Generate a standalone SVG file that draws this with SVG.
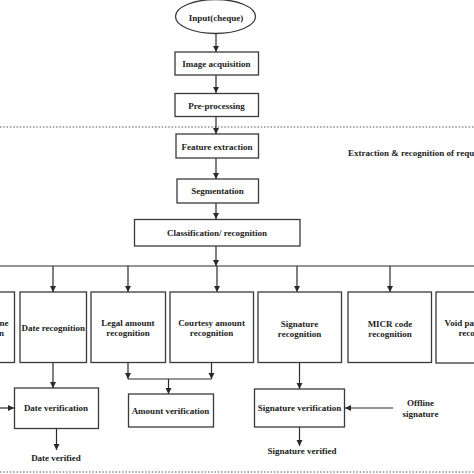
<svg xmlns="http://www.w3.org/2000/svg" width="474" height="474" viewBox="0 0 474 474">
<defs>
<marker id="ah" markerUnits="userSpaceOnUse" markerWidth="7" markerHeight="7" refX="6" refY="3" orient="auto">
<path d="M0,0 L6,3 L0,6 z" fill="#2a2a2a"/>
</marker>
<style>
.box{fill:#fff;stroke:#3a3a3a;stroke-width:1.3}
.t{font-family:'Liberation Serif','Times New Roman',serif;font-weight:bold;font-size:9px;fill:#222;text-anchor:middle}
.ts{font-family:'Liberation Serif','Times New Roman',serif;font-weight:bold;font-size:9px;fill:#222}
.c{fill:none;stroke:#2a2a2a;stroke-width:1.2}
.a{fill:none;stroke:#2a2a2a;stroke-width:1.2;marker-end:url(#ah)}
.dash{fill:none;stroke:#555;stroke-width:1;stroke-dasharray:1.5,1.8}
</style>
</defs>
<rect width="474" height="474" fill="#fff"/>
<line class="dash" x1="0" y1="127" x2="474" y2="127"/>
<line class="dash" x1="0" y1="472" x2="474" y2="472"/>
<text class="ts" x="348" y="156">Extraction &amp; recognition of requ</text>
<g id="connectors">
<line class="a" x1="216" y1="33" x2="216" y2="52"/>
<line class="a" x1="216" y1="75" x2="216" y2="93"/>
<line class="a" x1="216" y1="117" x2="216" y2="134"/>
<line class="a" x1="216" y1="158" x2="216" y2="179"/>
<line class="a" x1="216" y1="203" x2="216" y2="219"/>
<line class="a" x1="216" y1="246" x2="216" y2="266"/>
<line class="c" x1="0" y1="266" x2="474" y2="266"/>
<line class="a" x1="53" y1="266" x2="53" y2="292"/>
<line class="a" x1="128" y1="266" x2="128" y2="292"/>
<line class="a" x1="217" y1="266" x2="217" y2="292"/>
<line class="a" x1="297" y1="266" x2="297" y2="292"/>
<line class="a" x1="390" y1="266" x2="390" y2="292"/>
<line class="a" x1="53" y1="362" x2="53" y2="388"/>
<line class="a" x1="0" y1="408" x2="14" y2="408"/>
<line class="a" x1="56.5" y1="428" x2="56.5" y2="450"/>
<line class="a" x1="128" y1="362" x2="128" y2="379"/>
<line class="a" x1="211.5" y1="362" x2="211.5" y2="379"/>
<line class="c" x1="128" y1="379" x2="211.5" y2="379"/>
<line class="a" x1="168.5" y1="379" x2="168.5" y2="394"/>
<line class="a" x1="299.5" y1="362" x2="299.5" y2="389"/>
<line class="a" x1="393" y1="408" x2="345" y2="408"/>
<line class="a" x1="299.5" y1="427" x2="299.5" y2="446"/>
</g>
<g id="input"><ellipse class="box" cx="215.5" cy="16.5" rx="40" ry="17" stroke-width="1.5"/><text class="t" x="216" y="20.5" font-size="10">Input(cheque)</text></g>
<g id="image-acquisition"><rect class="box" x="175" y="52" width="83.5" height="23"/><text class="t" x="216.5" y="67">Image acquisition</text></g>
<g id="pre-processing"><rect class="box" x="175" y="93.5" width="83.5" height="23"/><text class="t" x="216.5" y="108.5">Pre-processing</text></g>
<g id="feature-extraction"><rect class="box" x="176" y="134" width="82.5" height="24"/><text class="t" x="217" y="149.5">Feature extraction</text></g>
<g id="segmentation"><rect class="box" x="177" y="179" width="81.5" height="24"/><text class="t" x="217.5" y="194">Segmentation</text></g>
<g id="classification"><rect class="box" x="134.5" y="219.5" width="165.5" height="26.5"/><text class="t" x="217" y="236">Classification/ recognition</text></g>
<g id="left-partial"><rect class="box" x="-40" y="292" width="54.5" height="70.5"/><text class="ts" x="8.5" y="326" text-anchor="end">ne</text><text class="ts" x="4" y="336" text-anchor="end">n</text></g>
<g id="date-recognition"><rect class="box" x="20" y="292" width="66.5" height="70.5"/><text class="t" x="53.2" y="330.5">Date recognition</text></g>
<g id="legal-amount"><rect class="box" x="91" y="292" width="74.5" height="70.5"/><text class="t" x="128" y="326">Legal amount</text><text class="t" x="128" y="336">recognition</text></g>
<g id="courtesy-amount"><rect class="box" x="170" y="292" width="83.5" height="70.5"/><text class="t" x="211.5" y="326">Courtesy amount</text><text class="t" x="211.5" y="336">recognition</text></g>
<g id="signature-recognition"><rect class="box" x="258" y="292" width="83.5" height="70.5"/><text class="t" x="299.5" y="326.5">Signature</text><text class="t" x="299.5" y="336.5">recognition</text></g>
<g id="micr"><rect class="box" x="348" y="292" width="83.5" height="70.5"/><text class="t" x="390" y="326.5">MICR code</text><text class="t" x="390" y="336.5">recognition</text></g>
<g id="right-partial"><rect class="box" x="436" y="292" width="60" height="71"/><text class="ts" x="444.5" y="326">Void pa</text><text class="ts" x="458.5" y="336">reco</text></g>
<g id="date-verification"><rect class="box" x="14.5" y="388" width="84" height="40.5"/><text class="t" x="56" y="411">Date verification</text></g>
<g id="date-verified"><text class="t" x="56" y="461">Date verified</text></g>
<g id="amount-verification"><rect class="box" x="128.5" y="394" width="85" height="33"/><text class="t" x="170.5" y="414">Amount verification</text></g>
<g id="signature-verification"><rect class="box" x="254.5" y="389" width="90" height="38"/><text class="t" x="299.5" y="411">Signature verification</text></g>
<g id="offline-signature"><text class="t" x="420.5" y="406">Offline</text><text class="t" x="420.5" y="416.5">signature</text></g>
<g id="signature-verified"><text class="t" x="302" y="454">Signature verified</text></g>
</svg>
